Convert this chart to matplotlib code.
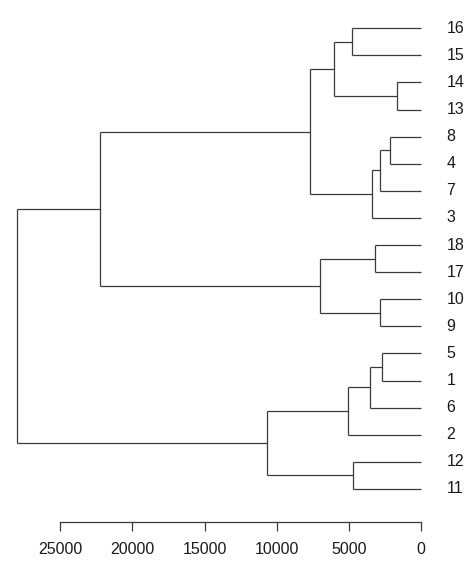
import matplotlib
matplotlib.use("Agg")
import matplotlib.pyplot as plt

# leaves from top to bottom
leaf_order = [16, 15, 14, 13, 8, 4, 7, 3, 18, 17, 10, 9, 5, 1, 6, 2, 12, 11]

# merge table like R's hclust: negative = leaf, positive = earlier merge (1-based)
merge_left = [-14, -8, -5, -10, 2, -18, 5, 3, -12, -16, 8, 10, 6, 12, 11, 14, 16]
merge_right = [-13, -4, -1, -9, -7, -17, -3, -6, -11, -15, -2, 1, 4, 7, 9, 13, 15]
merge_height = [1700, 2190, 2700, 2840, 2840, 3230, 3430, 3530, 4710,
                4780, 5090, 6020, 7030, 7700, 10660, 22240, 27960]

tick_values = [25000, 20000, 15000, 10000, 5000, 0]

n = len(leaf_order)
leaf_y = {lab: n - i for i, lab in enumerate(leaf_order)}

fig = plt.figure(figsize=(4.74, 5.70), dpi=100)
ax = fig.add_axes([0, 0, 1, 1])
ax.set_xlim(29152, -3647)
ax.set_ylim(-1.989, 19.04)

col = "#3a3a3a"
node_pos = []  # (y, height) for each merge


def child_pos(c):
    if c < 0:
        return leaf_y[-c], 0.0
    return node_pos[c - 1]


for l, r, h in zip(merge_left, merge_right, merge_height):
    yl, hl = child_pos(l)
    yr, hr = child_pos(r)
    ax.plot([hl, h], [yl, yl], color=col, lw=0.9, solid_capstyle="butt")
    ax.plot([hr, h], [yr, yr], color=col, lw=0.9, solid_capstyle="butt")
    ax.plot([h, h], [yl, yr], color=col, lw=0.9, solid_capstyle="butt")
    node_pos.append(((yl + yr) / 2, h))

# leaf labels
for lab, y in leaf_y.items():
    ax.text(-1740, y, str(lab), ha="left", va="center",
            fontsize=11.5, family="Liberation Sans", color="#1a1a1a")

for s in ["top", "right", "left"]:
    ax.spines[s].set_visible(False)
ax.spines["bottom"].set_position(("data", -0.207))
ax.spines["bottom"].set_bounds(0, 25000)
ax.spines["bottom"].set_color(col)
ax.spines["bottom"].set_linewidth(0.9)
ax.set_yticks([])
ax.set_xticks(tick_values)
ax.set_xticklabels([str(v) for v in tick_values], fontsize=11.5,
                   family="Liberation Sans", color="#1a1a1a")
ax.tick_params(axis="x", direction="out", length=6.5, width=0.9,
               color=col, pad=8)
ax.patch.set_visible(False)

fig.savefig("out.png", dpi=100)
